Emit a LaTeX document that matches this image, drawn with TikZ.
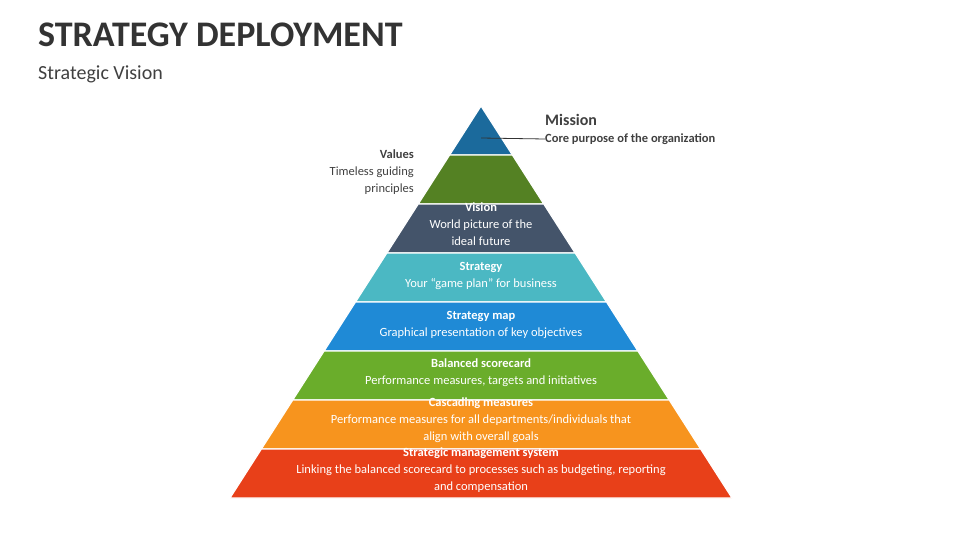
\documentclass[tikz,border=0pt]{standalone}
\usepackage{fontspec}
\setmainfont{Carlito}
\begin{document}
\begin{tikzpicture}[x=1pt,y=-1pt,
  lay/.style={draw=white,line width=1.2pt},
  lt/.style={text=white,font=\fontsize{12.5}{17}\selectfont,align=center,inner sep=0pt},
  dt/.style={text=black!75,font=\fontsize{12.5}{17}\selectfont,inner sep=0pt}]
\useasboundingbox (0,0) rectangle (960,540);
\definecolor{c1}{HTML}{1B6A9C}\definecolor{c2}{HTML}{548123}
\definecolor{c3}{HTML}{44546A}\definecolor{c4}{HTML}{4BB8C3}
\definecolor{c5}{HTML}{1F8AD6}\definecolor{c6}{HTML}{6AAD2B}
\definecolor{c7}{HTML}{F7941E}\definecolor{c8}{HTML}{E84019}
\def\hw#1{0.6403*(#1-106)}
\newcommand\layer[3]{\fill[#3,lay] ({481-\hw{#1}},#1) -- ({481+\hw{#1}},#1) -- ({481+\hw{#2}},#2) -- ({481-\hw{#2}},#2) -- cycle;}
\layer{106}{155}{c1}\layer{155}{204}{c2}\layer{204}{253}{c3}\layer{253}{302}{c4}
\layer{302}{351}{c5}\layer{351}{400}{c6}\layer{400}{449}{c7}\layer{449}{498}{c8}
\node[anchor=west,inner sep=0pt,font=\fontsize{36}{40}\selectfont\bfseries,text=black!80] (title) at (38,35) {STRATEGY DEPLOYMENT};
\node[anchor=west,inner sep=0pt,font=\fontsize{20}{24}\selectfont,text=black!75] (sub) at (38,74) {Strategic Vision};
\node[anchor=west,inner sep=0pt,font=\fontsize{16}{20}\selectfont\bfseries,text=black!75] (mis) at (545,120) {Mission};
\node[anchor=west,dt,font=\fontsize{12.5}{17}\selectfont\bfseries] (core) at (545,139) {Core purpose of the organization};
\coordinate (mp) at (481,138);
\draw[black!80,line width=0.8pt] (mp) -- (core.west);
\node[dt,align=right,anchor=north east] (val) at (414,150) {\textbf{Values}\\Timeless guiding\\principles};
\node[lt,anchor=north] (v) at (481,203) {\textbf{Vision}\\World picture of the\\ideal future};
\node[lt,anchor=north] (s) at (481,262) {\textbf{Strategy}\\Your “game plan” for business};
\node[lt,anchor=north] (sm) at (481,311) {\textbf{Strategy map}\\Graphical presentation of key objectives};
\node[lt,anchor=north] (bs) at (481,359) {\textbf{Balanced scorecard}\\Performance measures, targets and initiatives};
\node[lt,anchor=north] (cm) at (481,398) {\textbf{Cascading measures}\\Performance measures for all departments/individuals that\\align with overall goals};
\node[lt,anchor=north] (sms) at (481,448) {\textbf{Strategic management system}\\Linking the balanced scorecard to processes such as budgeting, reporting\\and compensation};
\end{tikzpicture}
\end{document}
